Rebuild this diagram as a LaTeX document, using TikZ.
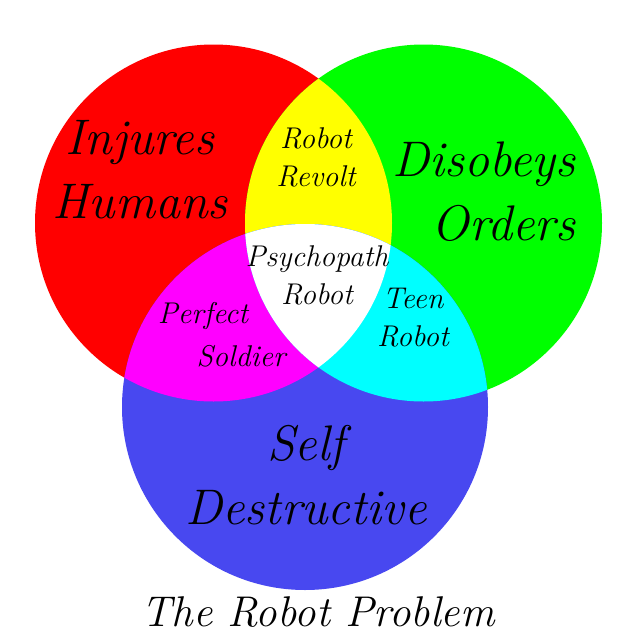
\documentclass[tikz,border=0pt]{standalone}
\definecolor{cR}{RGB}{255,0,0}
\definecolor{cG}{RGB}{0,255,0}
\definecolor{cB}{RGB}{72,72,240}
\definecolor{cY}{RGB}{255,255,0}
\definecolor{cM}{RGB}{255,0,255}
\definecolor{cC}{RGB}{0,255,255}
\begin{document}
\begin{tikzpicture}[x=1pt,y=-1pt,
  big/.style={font=\fontsize{50}{64}\selectfont\itshape,align=center},
  small/.style={font=\fontsize{30}{38}\selectfont\itshape,align=center}]
\useasboundingbox[fill=white] (0,0) rectangle (640,640);
\def\R{(213.5,223) circle (178.5)}
\def\G{(423.5,223) circle (178.5)}
\def\B{(305,407) circle (183)}
\fill[cR] \R;
\fill[cG] \G;
\fill[cB] \B;
\begin{scope}\clip \R; \fill[cY] \G; \end{scope}
\begin{scope}\clip \R; \fill[cM] \B; \end{scope}
\begin{scope}\clip \G; \fill[cC] \B; \end{scope}
\begin{scope}\clip \R; \clip \G; \fill[white] \B; \end{scope}
\node[big] (ih) at (140,170) {Injures\\Humans};
\node[big,align=right] (do) at (484,192) {Disobeys\\Orders};
\node[big] (sd) at (306,475) {Self\\Destructive};
\node[small] (rr) at (316,157) {Robot\\Revolt};
\node[small] (pr) at (317,275) {Psychopath\\Robot};
\node[small] (pf1) at (203,316) {Perfect};
\node[small] (pf2) at (241,356) {Soldier};
\node[small] (tr) at (413,318) {Teen\\Robot};
\node[font=\fontsize{43}{50}\selectfont\itshape] (t) at (318,612) {The Robot Problem};
\end{tikzpicture}
\end{document}
